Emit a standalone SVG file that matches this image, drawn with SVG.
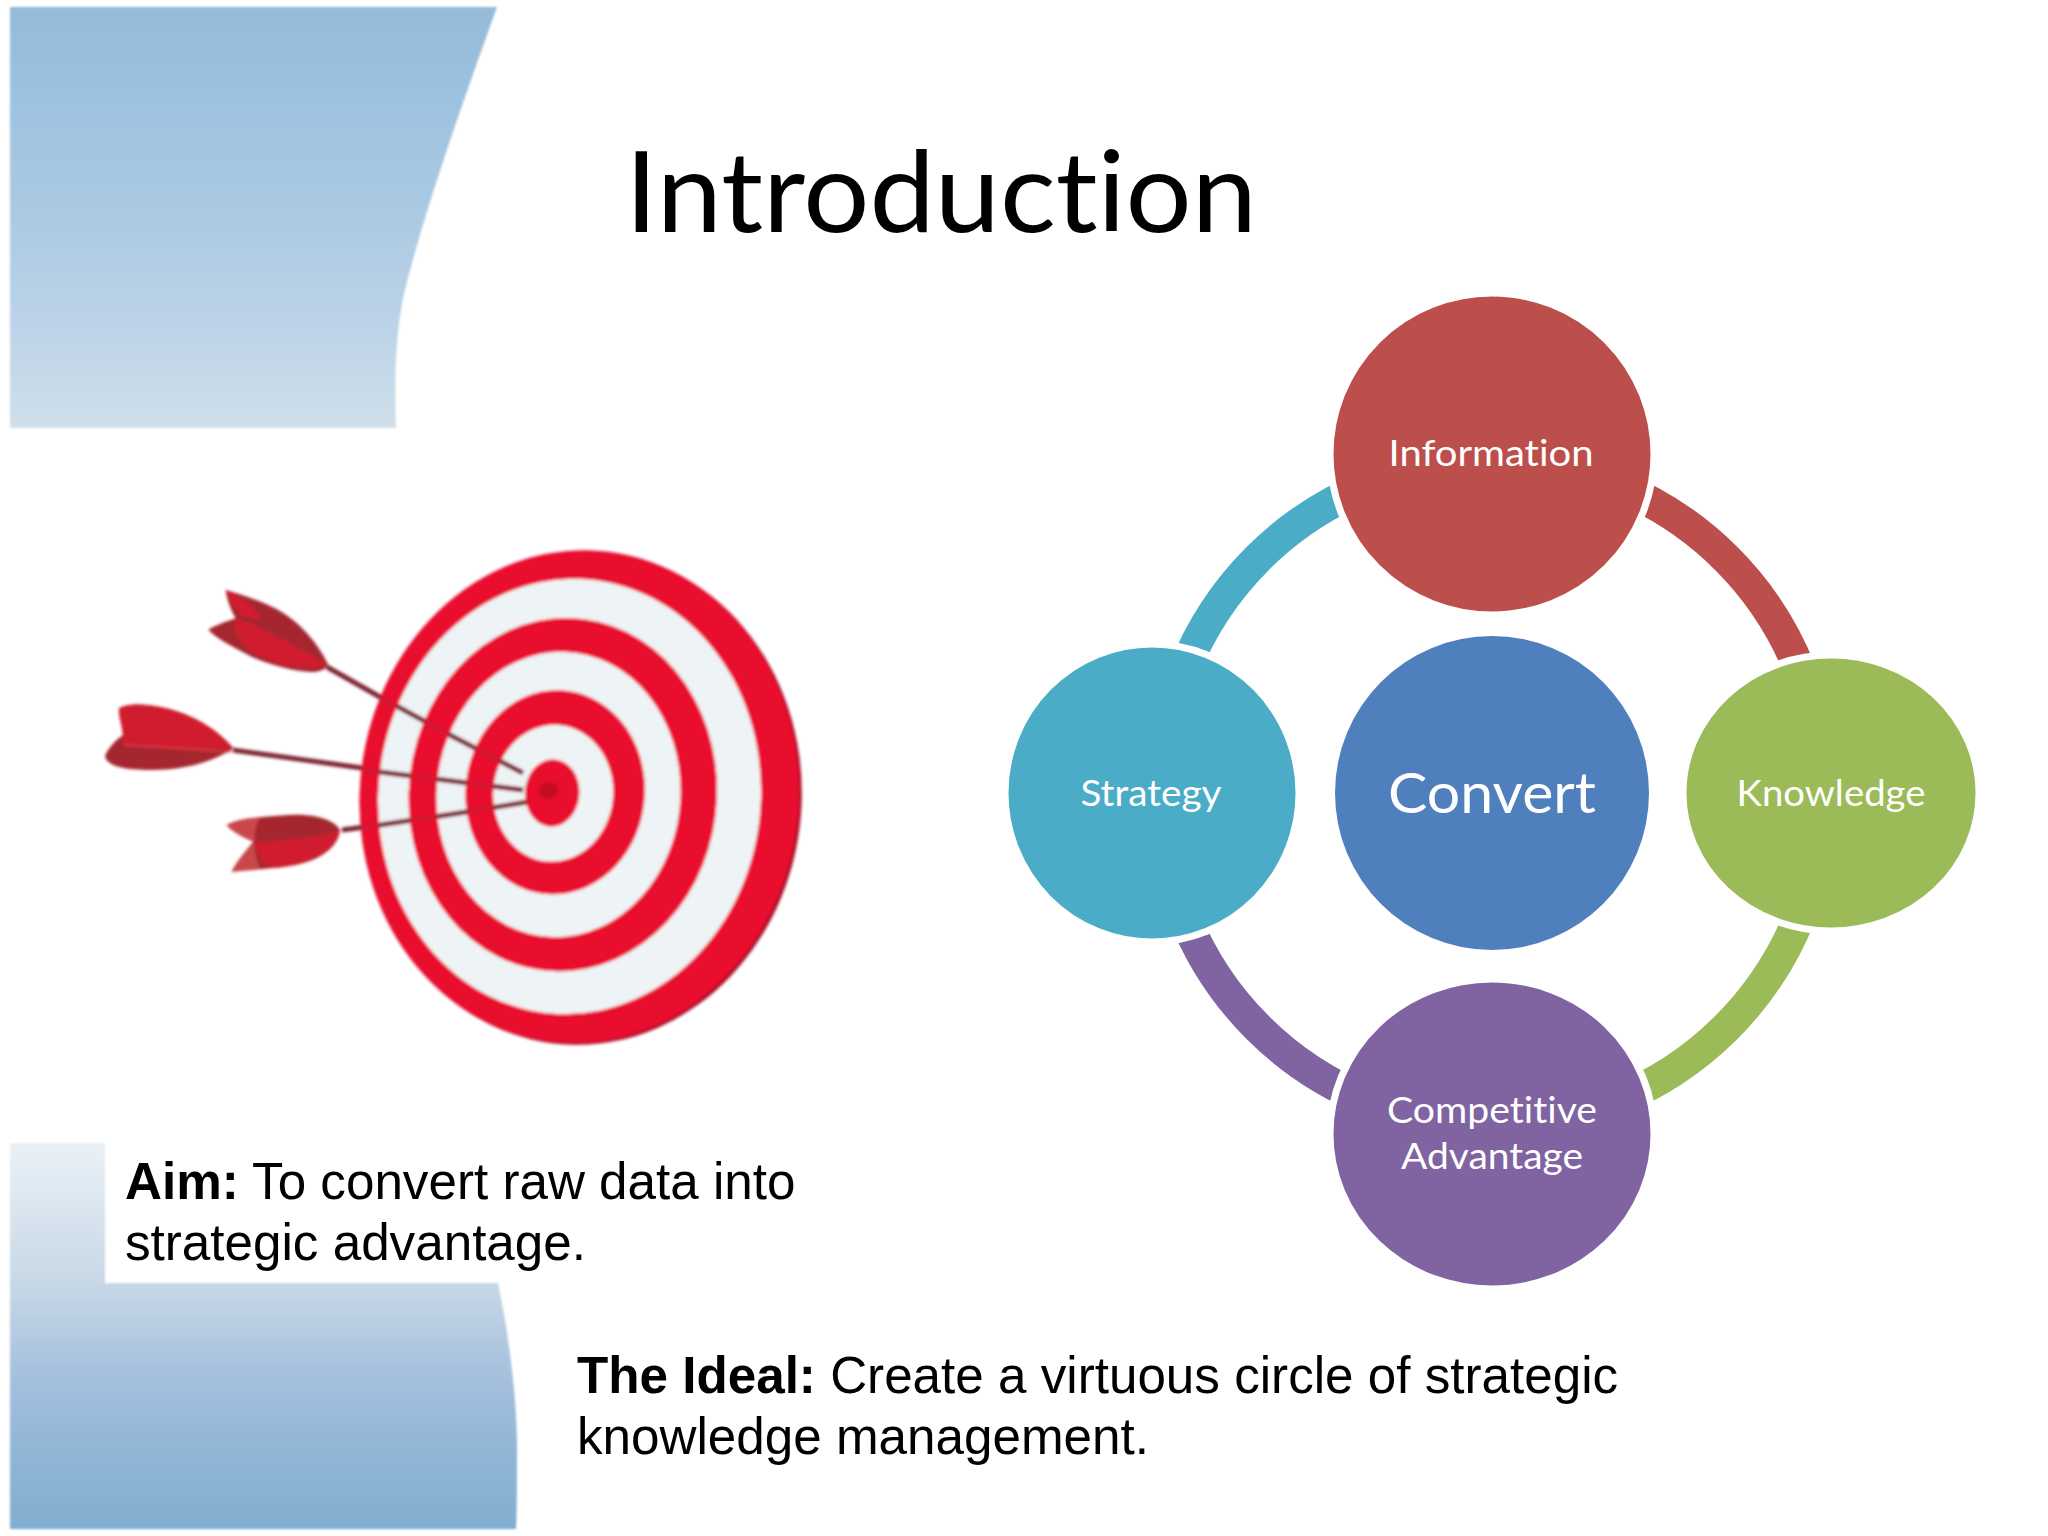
<svg xmlns="http://www.w3.org/2000/svg" width="2048" height="1536" viewBox="0 0 2048 1536">
<style>
.body{font-family:"Liberation Sans",Arial,sans-serif;font-size:51.2px;fill:#000}
.b{font-weight:700}
.lato{font-family:Lato,"Open Sans",sans-serif;font-variant-ligatures:none}
.lab{font-size:36px;fill:#fff;text-anchor:middle}
.node{stroke:#fff;stroke-width:7}
.arc{fill:none;stroke-width:32}
.red{fill:#e9122f}.pale{fill:#eef3f5}.over{fill:#e9122f;fill-rule:evenodd;fill-opacity:.8}.shaft{fill:none;stroke:#7f2733;stroke-width:5}
.dk{fill:#a5262f}.md{fill:#d01c2d}.lt{fill:#c9474b}.ln{fill:none;stroke:#ea3a48;stroke-width:4}
</style>
<defs>
<linearGradient id="g1" x1="0" y1="0" x2="0" y2="1"><stop offset="0" stop-color="#93bbd8"/><stop offset=".25" stop-color="#9fc3e0"/><stop offset=".5" stop-color="#abcae2"/><stop offset=".75" stop-color="#bcd3e8"/><stop offset="1" stop-color="#cfdfea"/></linearGradient>
<linearGradient id="g2" x1="0" y1="0" x2="0" y2="1"><stop offset="0" stop-color="#eaf1f7"/><stop offset=".36" stop-color="#c7d8e6"/><stop offset=".6" stop-color="#a6c0de"/><stop offset=".75" stop-color="#96b8d8"/><stop offset="1" stop-color="#80add0"/></linearGradient>
<filter id="soft" x="-5%" y="-5%" width="110%" height="110%"><feGaussianBlur stdDeviation="1.5"/></filter>
<filter id="edge" x="-2%" y="-2%" width="104%" height="104%"><feGaussianBlur stdDeviation="1"/></filter>
</defs>
<rect width="2048" height="1536" fill="#fff"/>
<g id="panels" filter="url(#edge)">
<path d="M10 7H497C460 110 425 210 405 290C396 326 394 380 396 428H10Z" fill="url(#g1)"/>
<path d="M10 1143H105V1283H498C508 1330 516 1390 517 1440C517 1480 517 1510 516 1529H10Z" fill="url(#g2)"/>
</g>
<g id="target" filter="url(#soft)">
<g transform="translate(80 520) scale(.4847 .357) rotate(1.5 1030 775)">
<ellipse cx="1036" cy="780" rx="453" ry="690" fill="#a80f28"/>
<ellipse cx="1030" cy="775" rx="453" ry="690" class="red"/>
<ellipse cx="1010" cy="775" rx="395" ry="610" class="pale"/>
<ellipse cx="996" cy="770" rx="318" ry="495" class="red"/>
<ellipse cx="987" cy="770" rx="252" ry="400" class="pale"/>
<ellipse cx="980" cy="764" rx="185" ry="286" class="red"/>
<ellipse cx="976" cy="767" rx="124" ry="192" class="pale"/>
<ellipse cx="974" cy="766" rx="56" ry="94" class="red"/>
</g>
<path class="shaft" d="M327 667L380 697L450 735L473 747L523 773M233 750L362 768L380 772L460 782L523 790M342 830L380 825L460 813L527 802"/>
<g transform="translate(80 520) scale(.4847 .357) rotate(1.5 1030 775)">
<path class="over" d="M577 775a453 690 0 1 0 906 0a453 690 0 1 0 -906 0ZM615 775a395 610 0 1 0 790 0a395 610 0 1 0 -790 0Z"/>
<path class="over" d="M678 770a318 495 0 1 0 636 0a318 495 0 1 0 -636 0ZM735 770a252 400 0 1 0 504 0a252 400 0 1 0 -504 0Z"/>
<path class="over" d="M795 764a185 286 0 1 0 370 0a185 286 0 1 0 -370 0ZM852 767a124 192 0 1 0 248 0a124 192 0 1 0 -248 0Z"/>
<ellipse cx="974" cy="766" rx="56" ry="94" class="over"/>
<ellipse cx="966" cy="760" rx="20" ry="24" fill="#c40a22"/>
</g>
<g transform="translate(95 570) scale(.3333)">
<path class="dk" d="M700 285C670 220 610 150 540 115C490 90 430 70 392 60C395 90 410 125 422 145C395 155 360 165 340 180C370 210 430 240 480 265C540 290 620 310 665 305C680 303 695 295 700 285Z"/>
<path class="md" d="M422 145C500 170 620 240 700 285C620 305 540 285 480 250C440 225 410 190 422 145Z"/>
<path class="md" d="M392 60C430 75 470 100 500 150L445 140C420 115 400 90 392 60Z"/>
<path class="dk" d="M415 535C370 480 290 430 200 412C150 400 95 400 72 415C70 440 85 475 85 495C60 510 35 540 30 560C40 590 90 600 170 600C260 600 350 580 415 535Z"/>
<path class="md" d="M415 535C370 480 290 430 200 412C150 400 95 400 72 415C70 440 85 475 85 520C190 530 310 540 415 535Z"/>
<path class="ln" d="M85 525C190 530 310 540 410 545"/>
<path class="dk" d="M735 780C720 750 660 730 580 735C500 740 440 745 395 765C410 785 450 805 475 815C450 845 425 875 410 905C470 900 540 895 600 885C680 870 730 830 735 780Z"/>
<path class="md" d="M735 780C690 800 560 815 480 815C490 860 500 885 540 893C580 893 620 880 650 868C700 845 730 820 735 780Z"/>
<path class="lt" d="M395 765C425 748 460 745 495 742C480 770 478 795 478 815C450 805 410 785 395 765ZM410 905C425 875 450 845 478 820C480 850 485 875 495 895C470 900 435 903 410 905Z"/>
</g>
</g>
<g id="title"><text class="lato" x="625" y="232" font-size="113" fill="#000" textLength="632" lengthAdjust="spacingAndGlyphs">Introduction</text></g>
<g id="connectors">
<path class="arc" stroke="#bc4f4c" d="M1492 461.500A331.500 331.500 0 0 1 1823.500 793"/>
<path class="arc" stroke="#9bbb59" d="M1823.500 793A331.500 331.500 0 0 1 1492 1124.500"/>
<path class="arc" stroke="#8064a2" d="M1492 1124.500A331.500 331.500 0 0 1 1160.500 793"/>
<path class="arc" stroke="#4bacc8" d="M1160.500 793A331.500 331.500 0 0 1 1492 461.500"/>
</g>
<g id="node-information"><ellipse class="node" cx="1492" cy="454" rx="162" ry="161" fill="#bc4f4c"/><text class="lato lab" x="1491" y="466" textLength="205" lengthAdjust="spacingAndGlyphs">Information</text></g>
<g id="node-knowledge"><ellipse class="node" cx="1831" cy="793" rx="148" ry="138" fill="#9bbb59"/><text class="lato lab" x="1831" y="806" textLength="189" lengthAdjust="spacingAndGlyphs">Knowledge</text></g>
<g id="node-competitive"><ellipse class="node" cx="1492" cy="1134" rx="162" ry="155" fill="#8064a2"/><text class="lato lab"><tspan x="1492" y="1123" textLength="210" lengthAdjust="spacingAndGlyphs">Competitive</tspan><tspan x="1492" y="1169" textLength="182" lengthAdjust="spacingAndGlyphs">Advantage</tspan></text></g>
<g id="node-strategy"><ellipse class="node" cx="1152" cy="793" rx="147" ry="149" fill="#4bacc8"/><text class="lato lab" x="1151" y="806" textLength="141" lengthAdjust="spacingAndGlyphs">Strategy</text></g>
<g id="node-convert"><circle cx="1492" cy="793" r="157" fill="#4f7fbd"/><text class="lato lab" x="1492" y="813" style="font-size:56px" textLength="208" lengthAdjust="spacingAndGlyphs">Convert</text></g>
<g id="aim"><text class="body" x="125" y="1199"><tspan class="b">Aim:</tspan> To convert raw data into</text><text class="body" x="125" y="1260">strategic advantage.</text></g>
<g id="ideal"><text class="body" x="577" y="1393"><tspan class="b">The Ideal:</tspan> Create a virtuous circle of strategic</text><text class="body" x="577" y="1454">knowledge management.</text></g>
</svg>
